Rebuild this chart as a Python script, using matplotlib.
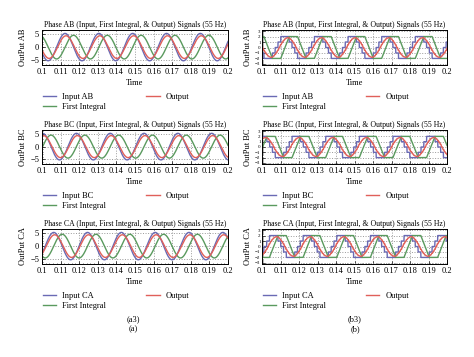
import numpy as np
import matplotlib
matplotlib.use("Agg")
import matplotlib.pyplot as plt

plt.rcParams['font.family'] = ['Liberation Serif', 'DejaVu Serif']
plt.rcParams['font.size'] = 5.8

# signal settings
freq = 55.0
phases = ["AB", "BC", "CA"]
peak_time = [0.1124, 0.1185, 0.1063]      # time of an input peak for each phase

# (a) sine signals
amp_input_a = 5.2
amp_output_a = 4.3
amp_integral_a = 4.5
lag_output_a = 10.0       # degrees
lag_integral_a = 90.0     # degrees

# (b) stepped signals, one period, angle (deg) from the input peak
step_angles = [0, 30, 60, 90, 120, 150, 180, 210, 240, 270, 300, 330]
step_levels = [2, 2, 1, 0, -1, -2, -2, -2, -1, 0, 1, 2]
out_angles = [0, 15, 30, 45, 60, 75, 90, 105, 120, 135, 150, 165,
              180, 195, 210, 225, 240, 255, 270, 285, 300, 315, 330, 345]
out_levels = [1.7, 1.8, 1.75, 1.55, 1.25, 0.9, 0.5, 0.0, -0.5, -0.9, -1.25, -1.55,
              -1.7, -1.8, -1.75, -1.55, -1.25, -0.9, -0.5, 0.0, 0.5, 0.9, 1.25, 1.55]
lag_output_b = 15.0
trap_angles = [-45, 45, 135, 225, 315]
trap_levels = [2, 2, -2, -2, 2]
lag_integral_b = 90.0

xticks = [0.1, 0.11, 0.12, 0.13, 0.14, 0.15, 0.16, 0.17, 0.18, 0.19, 0.2]
xtick_labels = ["0.1", "0.11", "0.12", "0.13", "0.14", "0.15", "0.16", "0.17", "0.18", "0.19", "0.2"]

c_in = "#6a6ab4"
c_out = "#e0605a"
c_int = "#5a9a5e"

t = np.linspace(0.1, 0.2, 4000)


def angle(tt, tp, lag):
    return np.mod(360.0 * freq * (tt - tp) - lag, 360.0)


def stair(theta):
    idx = (np.mod(theta + 15, 360) // 30).astype(int)
    return np.array(step_levels)[idx]


def smooth_stair(theta):
    xs, ys = [], []
    for a, v in zip(out_angles, out_levels):
        xs += [a - 4, a + 4]
        ys += [v, v]
    xs = np.array(xs) + 4
    ys = np.array(ys)
    return np.interp(np.mod(theta + 4, 360), xs, ys, period=360)


def trapezoid(theta):
    th = np.mod(theta + 45, 360) - 45
    return np.interp(th, trap_angles, trap_levels)


H = 357.0
W = 474.0
rows_px = [(30, 65), (130, 164), (229, 264)]
cols_px = [(42, 228), (262, 447)]


def style_axes(ax, name, right):
    ax.set_xlim(0.1, 0.2)
    ax.set_xticks(xticks)
    ax.set_xticklabels(xtick_labels)
    ax.tick_params(direction='in', length=2, width=0.5, pad=2, labelsize=6)
    ax.tick_params(which='minor', direction='in', length=1, width=0.4)
    if right:
        ax.set_ylim(-3.2, 3.2)
        ax.set_yticks([-3, -2, -1, 0, 1, 2, 3])
        ax.tick_params(axis='y', labelsize=3.6, pad=1)
    else:
        ax.set_ylim(-6.8, 6.5)
        ax.set_yticks([-5, 0, 5])
    ax.minorticks_on()
    ax.grid(True, which='major', linestyle=':', color='#999999', linewidth=0.7)
    for s in ax.spines.values():
        s.set_linewidth(0.7)
    ax.set_title("Phase %s (Input, First Integral, & Output) Signals (55 Hz)" % name,
                 fontsize=5.6, pad=2)
    ax.set_xlabel("Time", fontsize=6, labelpad=2)
    ax.set_ylabel("OutPut %s" % name, fontsize=6, labelpad=2)


fig = plt.figure(figsize=(W / 100, H / 100), dpi=100)

for r, (name, tp) in enumerate(zip(phases, peak_time)):
    top, bot = rows_px[r]
    for c, (x0, x1) in enumerate(cols_px):
        ax = fig.add_axes([x0 / W, 1 - bot / H, (x1 - x0) / W, (bot - top) / H])
        if c == 0:
            y_in = amp_input_a * np.cos(np.radians(angle(t, tp, 0)))
            y_int = amp_integral_a * np.cos(np.radians(angle(t, tp, lag_integral_a)))
            y_out = amp_output_a * np.cos(np.radians(angle(t, tp, lag_output_a)))
        else:
            y_in = stair(angle(t, tp, 0))
            y_int = trapezoid(angle(t, tp, lag_integral_b))
            y_out = smooth_stair(angle(t, tp, lag_output_b))
        l1, = ax.plot(t, y_in, color=c_in, lw=1.0)
        l2, = ax.plot(t, y_int, color=c_int, lw=1.0)
        l3, = ax.plot(t, y_out, color=c_out, lw=1.0)
        style_axes(ax, name, c == 1)
        leg_x = (x0 + 1) / W
        leg_y = 1 - (bot + 28) / H
        ax.legend([l1, l2, l3], ["Input %s" % name, "First Integral", "Output"],
                  ncol=2, loc='upper left', bbox_to_anchor=(leg_x, leg_y),
                  bbox_transform=fig.transFigure, frameon=False, fontsize=6,
                  handlelength=1.6, handletextpad=0.7, columnspacing=4.8,
                  labelspacing=0.2, borderpad=0, borderaxespad=0)

fig.text(133 / W, 1 - 319 / H, "(a3)", ha='center', va='center', fontsize=6)
fig.text(133 / W, 1 - 329 / H, "(a)", ha='center', va='center', fontsize=6)
fig.text(355 / W, 1 - 319 / H, "(b3)", ha='center', va='center', fontsize=6)
fig.text(355 / W, 1 - 329 / H, "(b)", ha='center', va='center', fontsize=6)

fig.savefig("out.png", dpi=100)
